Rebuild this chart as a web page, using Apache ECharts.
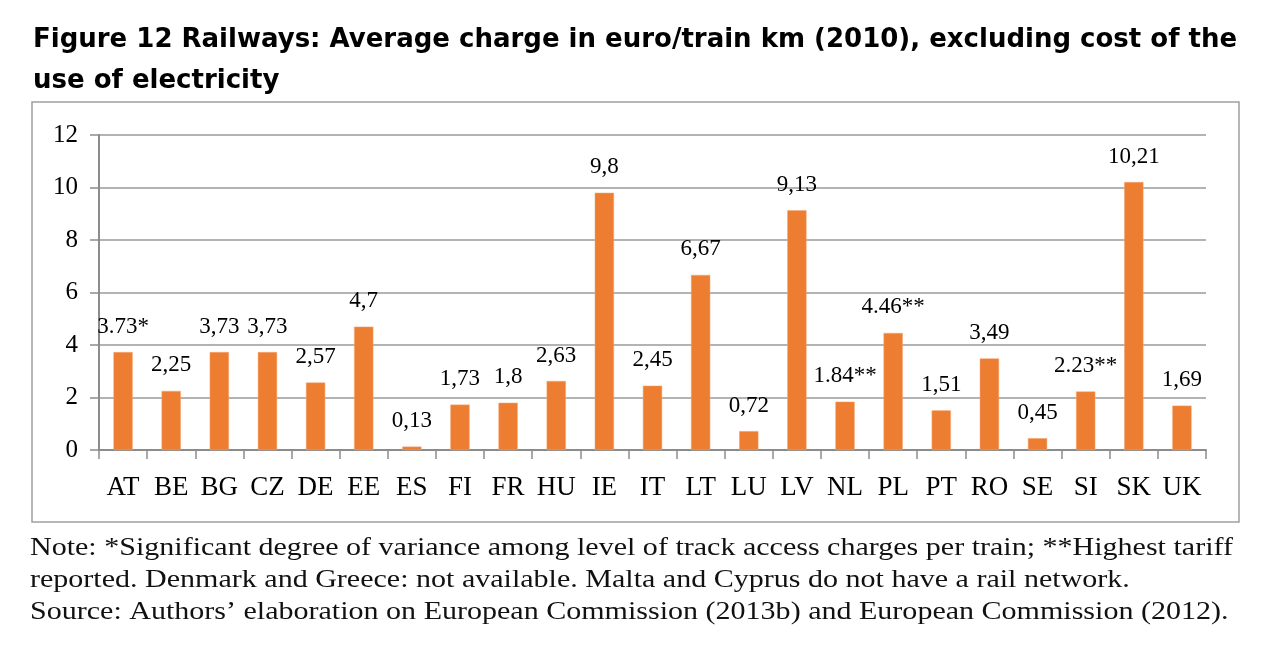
<!DOCTYPE html>
<html>
<head>
<meta charset="utf-8">
<script src="https://cdn.jsdelivr.net/npm/echarts@6/dist/echarts.min.js"></script>
<style>
  html, body { margin: 0; padding: 0; background: #fff; }
  #chart { width: 1275px; height: 670px; }
</style>
</head>
<body>
<div id="chart"></div>
<script>
// 国家代码
var countries = ['AT','BE','BG','CZ','DE','EE','ES','FI','FR','HU','IE','IT','LT','LU','LV','NL','PL','PT','RO','SE','SI','SK','UK'];
// 平均收费 (euro/train km)
var charges = [3.73,2.25,3.73,3.73,2.57,4.7,0.13,1.73,1.8,2.63,9.8,2.45,6.67,0.72,9.13,1.84,4.46,1.51,3.49,0.45,2.23,10.21,1.69];
// 柱顶标签文字
var valueLabels = ['3.73*','2,25','3,73','3,73','2,57','4,7','0,13','1,73','1,8','2,63','9,8','2,45','6,67','0,72','9,13','1.84**','4.46**','1,51','3,49','0,45','2.23**','10,21','1,69'];
var yTicks = [0, 2, 4, 6, 8, 10, 12];

var titleLines = 'Figure 12 Railways: Average charge in euro/train km (2010), excluding cost of the\nuse of electricity';
var noteLines = 'Note: *Significant degree of variance among level of track access charges per train; **Highest tariff\n' +
  'reported. Denmark and Greece: not available. Malta and Cyprus do not have a rail network.\n' +
  'Source: Authors\u2019 elaboration on European Commission (2013b) and European Commission (2012).';

var serif = '"Liberation Serif", "DejaVu Serif", serif';

function barChart(id){
    var chart = echarts.init(document.getElementById(id));
    var option = {
        animation: false,
        title : [
            {
                text: titleLines,
                left: 28,
                top: 15,
                textStyle: {
                    fontFamily: '"DejaVu Sans", sans-serif',
                    fontSize: 26,
                    fontWeight: 'bold',
                    color: '#000',
                    lineHeight: 41
                }
            }
        ],
        graphic: [
            {
                type: 'rect',
                shape: { x: 32, y: 102, width: 1207, height: 420 },
                style: { fill: 'none', stroke: '#a0a0a0', lineWidth: 1.5 },
                silent: true
            },
            {
                type: 'text',
                left: 30,
                top: 532,
                scaleX: 1.155,
                style: {
                    text: noteLines,
                    fill: '#111',
                    font: '26px "Liberation Serif", serif',
                    lineHeight: 32
                },
                silent: true
            }
        ],
        grid: { left: 99, right: 69, top: 135, bottom: 220 },
        xAxis : [
            {
                type : 'category',
                data : countries,
                axisLine: { lineStyle: { color: '#8c8c8c', width: 2 } },
                axisTick: { show: true, alignWithLabel: false, length: 9, lineStyle: { color: '#8c8c8c', width: 1.5 } },
                axisLabel: { interval: 0, margin: 24, color: '#000', fontFamily: serif, fontSize: 27 }
            }
        ],
        yAxis : [
            {
                type : 'value',
                min: yTicks[0],
                max: yTicks[yTicks.length - 1],
                interval: 2,
                axisLine: { show: true, lineStyle: { color: '#8c8c8c', width: 2 } },
                axisTick: { show: true, length: 9, lineStyle: { color: '#8c8c8c', width: 1.5 } },
                splitLine: { show: true, lineStyle: { color: '#9a9a9a', width: 1.5 } },
                axisLabel: { margin: 21, color: '#000', fontFamily: serif, fontSize: 25 }
            }
        ],
        series : [
            {
                name: 'charge',
                type: 'bar',
                barWidth: '40%',
                itemStyle: { color: '#ED7D31', borderColor: '#f5a673', borderWidth: 0.5 },
                label: {
                    show: true,
                    position: 'top',
                    distance: 14,
                    color: '#000',
                    fontFamily: serif,
                    fontSize: 23,
                    formatter: function(p){ return valueLabels[p.dataIndex]; }
                },
                data: charges
            }
        ]
    };
    chart.setOption(option);
    return chart;
}

barChart('chart');
</script>
</body>
</html>
